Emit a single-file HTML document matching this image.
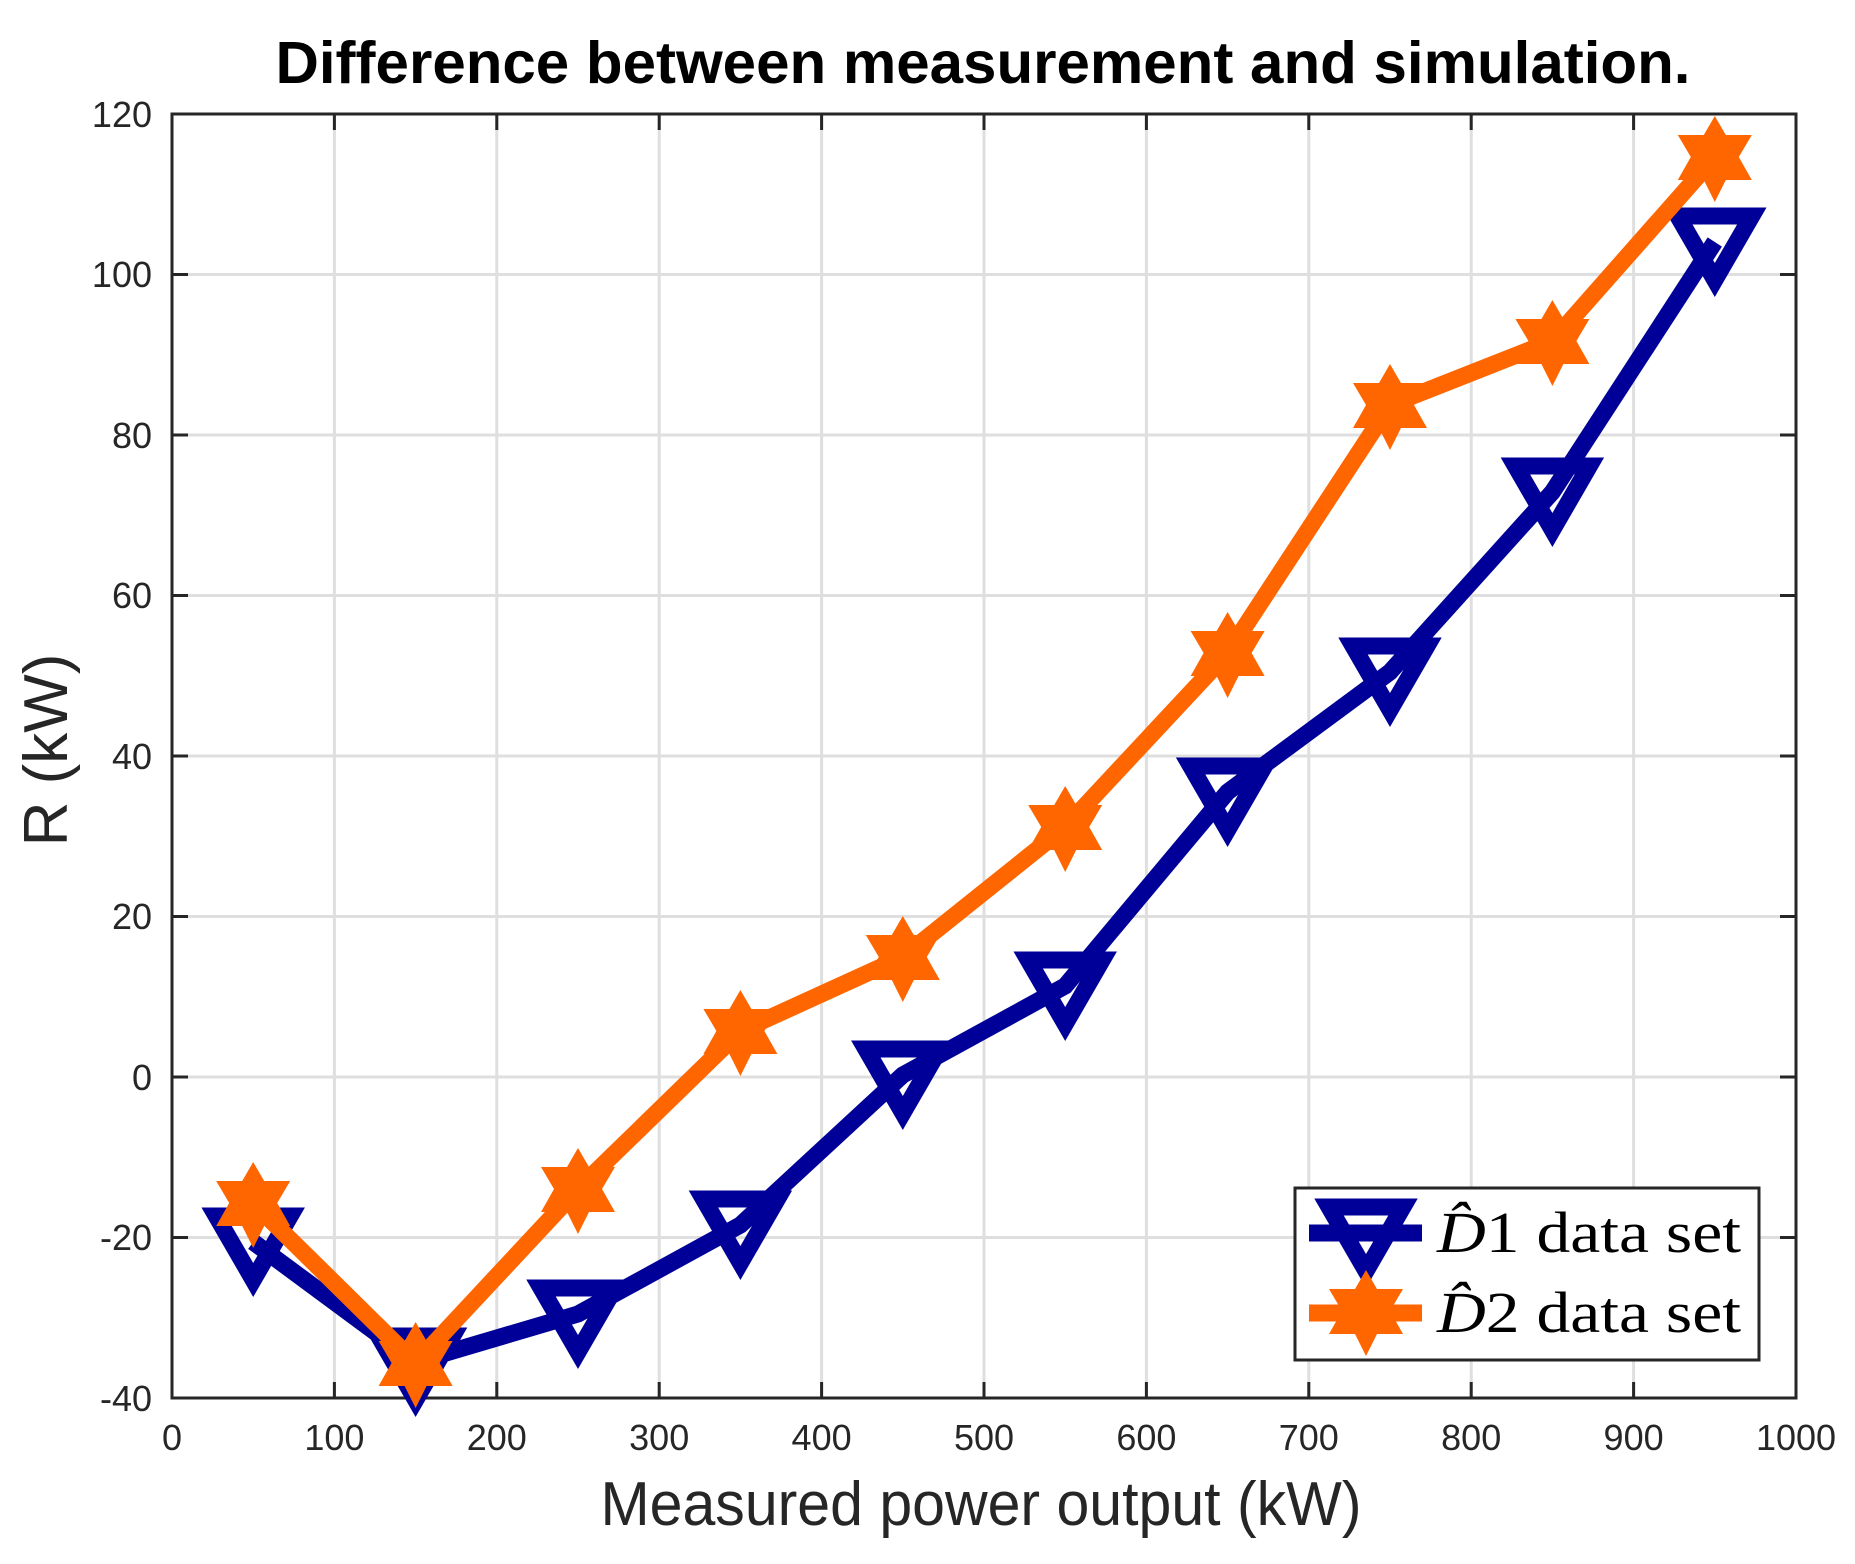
<!DOCTYPE html>
<html><head><meta charset="utf-8"><style>html,body{margin:0;padding:0;background:#fff}svg{display:block}</style></head>
<body>
<svg width="1855" height="1564" viewBox="0 0 1855 1564" xmlns="http://www.w3.org/2000/svg">
<defs>
<g id="tri"><polygon points="-37,-26 37,-26 0,38" fill="none" stroke="#000099" stroke-width="17" stroke-linejoin="miter"/></g>
<g id="star"><polygon points="0,-43 11,-24 37,-24 24,-2 37,21 11,21 0,43 -11,21 -37,21 -24,-2 -37,-24 -11,-24" transform="translate(0,2)" fill="#ff6600"/></g>
</defs>
<g stroke="#dfdfdf" stroke-width="3">
<line x1="334.4" y1="114" x2="334.4" y2="1398"/><line x1="496.8" y1="114" x2="496.8" y2="1398"/><line x1="659.2" y1="114" x2="659.2" y2="1398"/><line x1="821.6" y1="114" x2="821.6" y2="1398"/><line x1="984" y1="114" x2="984" y2="1398"/><line x1="1146.4" y1="114" x2="1146.4" y2="1398"/><line x1="1308.8" y1="114" x2="1308.8" y2="1398"/><line x1="1471.2" y1="114" x2="1471.2" y2="1398"/><line x1="1633.6" y1="114" x2="1633.6" y2="1398"/>
<line x1="172" y1="274.5" x2="1796" y2="274.5"/><line x1="172" y1="435" x2="1796" y2="435"/><line x1="172" y1="595.5" x2="1796" y2="595.5"/><line x1="172" y1="756" x2="1796" y2="756"/><line x1="172" y1="916.5" x2="1796" y2="916.5"/><line x1="172" y1="1077" x2="1796" y2="1077"/><line x1="172" y1="1237.5" x2="1796" y2="1237.5"/>
</g>
<g stroke="#262626" stroke-width="3">
<rect x="172" y="114" width="1624" height="1284" fill="none"/>
<path d="M334.4,114v16M496.8,114v16M659.2,114v16M821.6,114v16M984,114v16M1146.4,114v16M1308.8,114v16M1471.2,114v16M1633.6,114v16M334.4,1398v-16M496.8,1398v-16M659.2,1398v-16M821.6,1398v-16M984,1398v-16M1146.4,1398v-16M1308.8,1398v-16M1471.2,1398v-16M1633.6,1398v-16M172,274.5h16M172,435h16M172,595.5h16M172,756h16M172,916.5h16M172,1077h16M172,1237.5h16M1796,274.5h-16M1796,435h-16M1796,595.5h-16M1796,756h-16M1796,916.5h-16M1796,1077h-16M1796,1237.5h-16"/>
</g>
<g font-family="Liberation Sans, sans-serif" font-size="36" fill="#262626" text-anchor="middle">
<text x="172" y="1450">0</text><text x="334.4" y="1450">100</text><text x="496.8" y="1450">200</text><text x="659.2" y="1450">300</text><text x="821.6" y="1450">400</text><text x="984" y="1450">500</text><text x="1146.4" y="1450">600</text><text x="1308.8" y="1450">700</text><text x="1471.2" y="1450">800</text><text x="1633.6" y="1450">900</text><text x="1796" y="1450">1000</text>
</g>
<g font-family="Liberation Sans, sans-serif" font-size="36" fill="#262626" text-anchor="end">
<text x="152" y="127">120</text><text x="152" y="287">100</text><text x="152" y="448">80</text><text x="152" y="608">60</text><text x="152" y="769">40</text><text x="152" y="929">20</text><text x="152" y="1090">0</text><text x="152" y="1250">-20</text><text x="152" y="1411">-40</text>
</g>
<text x="981" y="1525" font-family="Liberation Sans, sans-serif" font-size="62" fill="#262626" text-anchor="middle" textLength="761" lengthAdjust="spacingAndGlyphs">Measured power output (kW)</text>
<text transform="translate(67,750) rotate(-90)" font-family="Liberation Sans, sans-serif" font-size="62" fill="#262626" text-anchor="middle">R (kW)</text>
<text x="983" y="83" font-family="Liberation Sans, sans-serif" font-size="59" font-weight="bold" fill="#000" text-anchor="middle" textLength="1415" lengthAdjust="spacingAndGlyphs">Difference between measurement and simulation.</text>

<polyline fill="none" stroke="#000099" stroke-width="17" stroke-linejoin="miter" points="253.2,1242 415.6,1362 578,1314 740.4,1225 902.8,1075 1065.2,986 1227.6,792 1390,672 1552.4,492 1714.8,242"/>
<g>
<use href="#tri" x="253.2" y="1242"/><use href="#tri" x="415.6" y="1362"/><use href="#tri" x="578" y="1314"/><use href="#tri" x="740.4" y="1225"/><use href="#tri" x="902.8" y="1075"/><use href="#tri" x="1065.2" y="986"/><use href="#tri" x="1227.6" y="792"/><use href="#tri" x="1390" y="672"/><use href="#tri" x="1552.4" y="492"/><use href="#tri" x="1714.8" y="242"/>
</g>
<polyline fill="none" stroke="#ff6600" stroke-width="17" stroke-linejoin="miter" points="253.2,1203 415.6,1363 578,1189 740.4,1031 902.8,957 1065.2,827 1227.6,653 1390,405 1552.4,341 1714.8,157"/>
<g>
<use href="#star" x="253.2" y="1203"/><use href="#star" x="415.6" y="1363"/><use href="#star" x="578" y="1189"/><use href="#star" x="740.4" y="1031"/><use href="#star" x="902.8" y="957"/><use href="#star" x="1065.2" y="827"/><use href="#star" x="1227.6" y="653"/><use href="#star" x="1390" y="405"/><use href="#star" x="1552.4" y="341"/><use href="#star" x="1714.8" y="157"/>
</g>

<rect x="1295" y="1188" width="464" height="172" fill="#fff" stroke="#262626" stroke-width="3"/>
<line x1="1309" y1="1233" x2="1422" y2="1233" stroke="#000099" stroke-width="17"/>
<use href="#tri" x="1366" y="1233"/>
<line x1="1309" y1="1313" x2="1422" y2="1313" stroke="#ff6600" stroke-width="17"/>
<use href="#star" x="1366" y="1311"/>
<g font-family="Liberation Serif, serif" font-size="58" fill="#000">
<text x="1437" y="1252" textLength="304" lengthAdjust="spacingAndGlyphs"><tspan font-style="italic">D̂</tspan>1 data set</text>
<text x="1437" y="1332" textLength="304" lengthAdjust="spacingAndGlyphs"><tspan font-style="italic">D̂</tspan>2 data set</text>
</g>
</svg>
</body></html>
